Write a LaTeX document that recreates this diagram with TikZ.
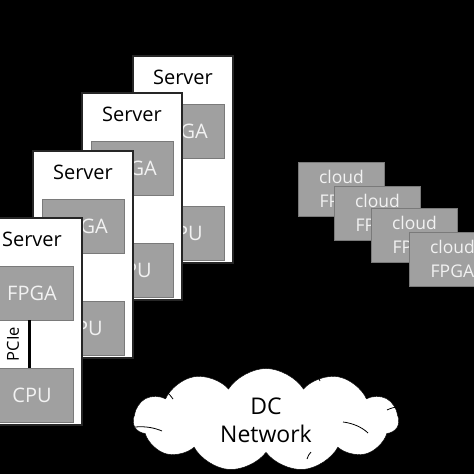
\documentclass[tikz,border=0pt]{standalone}
\usepackage{fontspec}
\setmainfont{Open Sans}
\usetikzlibrary{shapes.symbols,calc}
\definecolor{boxgray}{HTML}{A0A0A0}
\definecolor{boxedge}{HTML}{7A7A7A}
\definecolor{boxtext}{HTML}{F2F2F2}
\begin{document}
\begin{tikzpicture}[x=1pt,y=-1pt,
  server/.style={draw=black!85, line width=1.2pt, fill=white, minimum width=100pt,
    minimum height=207pt, inner sep=0pt, outer sep=0pt, anchor=north west},
  srvlabel/.style={inner sep=0pt, text=black, font=\fontsize{20}{24}\selectfont},
  part/.style={draw=boxedge, line width=0.8pt, fill=boxgray, minimum width=82pt,
    minimum height=54pt, inner sep=0pt, outer sep=0pt, anchor=north, text=boxtext,
    font=\fontsize{20}{24}\selectfont},
  cfpga/.style={draw=boxedge, line width=0.8pt, fill=boxgray, minimum width=86pt,
    minimum height=54pt, inner sep=0pt, anchor=north west, text=boxtext, align=center,
    font=\fontsize{17.5}{24}\selectfont},
  pcie/.style={line width=3pt, black},
  crease/.style={line width=0.8pt, black}
]
\clip (0,0) rectangle (474,474);
\fill[black] (0,0) rectangle (474,474);

% servers, back to front
\node[server] (s4) at (133,56) {};
\node[srvlabel] (s4t) at ([yshift=-21pt]s4.north) {Server};
\node[part] (s4f) at ([yshift=-48pt]s4.north) {FPGA};
\node[part] (s4c) at ([yshift=-150pt]s4.north) {CPU};

\node[server] (s3) at (82,93) {};
\node[srvlabel] (s3t) at ([yshift=-21pt]s3.north) {Server};
\node[part] (s3f) at ([yshift=-48pt]s3.north) {FPGA};
\node[part] (s3c) at ([yshift=-150pt]s3.north) {CPU};

\node[server] (s2) at (33,151) {};
\node[srvlabel] (s2t) at ([yshift=-21pt]s2.north) {Server};
\node[part] (s2f) at ([yshift=-48pt]s2.north) {FPGA};
\node[part] (s2c) at ([yshift=-150pt]s2.north) {CPU};

\node[server] (s1) at (-18,218) {};
\node[srvlabel] (s1t) at ([yshift=-21pt]s1.north) {Server};
\node[part] (s1f) at ([yshift=-48pt]s1.north) {FPGA};
\node[part] (s1c) at ([yshift=-150pt]s1.north) {CPU};
\draw[pcie] ([xshift=-3pt]s1f.south) -- ([xshift=-3pt]s1c.north);
\node[rotate=90, inner sep=0pt, font=\fontsize{16.5}{18}\selectfont] (pcietxt)
  at ($(s1f.south)!0.5!(s1c.north)+(-19,0)$) {PCIe};

% cloud FPGAs
\node[cfpga] (c1) at (298,162) {cloud\\FPGA};
\node[cfpga] (c2) at (334,186) {cloud\\FPGA};
\node[cfpga] (c3) at (371,208) {cloud\\FPGA};
\node[cfpga] (c4) at (409,232) {cloud\\FPGA};

% DC network cloud
\node[cloud, cloud puffs=11, cloud puff arc=115, aspect=2.6, draw=black, fill=white,
  minimum width=265pt, minimum height=103pt, inner sep=0pt, align=center,
  font=\fontsize{23}{28}\selectfont] (net) at (266,420) {DC\\Network};
\draw[crease] (135,427) .. controls (146,426) and (155,428) .. (162,431);
\draw[crease] (387,410) .. controls (391,408) and (395,407) .. (398,407);
\draw[crease] (343,422) .. controls (352,423) and (362,427) .. (368,433);
\draw[crease] (223,380) .. controls (225,382) and (227,384) .. (229,386);
\draw[crease] (316,374) .. controls (318,376) and (319,378) .. (320,381);
\draw[crease] (307,459) .. controls (308,456) and (309,454) .. (311,452);
\draw[crease] (167,392) .. controls (169,394) and (171,396) .. (173,399);
\end{tikzpicture}
\end{document}
